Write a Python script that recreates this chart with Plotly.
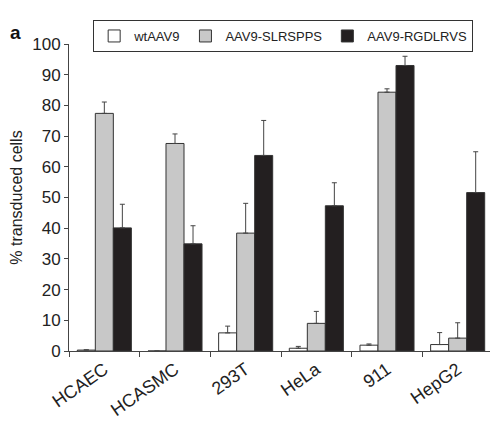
import plotly.graph_objects as go

cells = ["HCAEC", "HCASMC", "293T", "HeLa", "911", "HepG2"]

wt_vals = [0.3, 0, 5.9, 0.9, 1.9, 2.1]
wt_err = [0.1, 0, 2.2, 0.6, 0.4, 3.9]

slr_vals = [77.4, 67.6, 38.4, 9.0, 84.3, 4.2]
slr_err = [3.7, 3.1, 9.7, 3.9, 1.1, 5.0]

rgd_vals = [40.1, 34.9, 63.7, 47.3, 93.0, 51.6]
rgd_err = [7.7, 5.9, 11.4, 7.5, 3.0, 13.3]

series = [
    ("wtAAV9", wt_vals, wt_err, "white"),
    ("AAV9-SLRSPPS", slr_vals, slr_err, "#c8c8c8"),
    ("AAV9-RGDLRVS", rgd_vals, rgd_err, "#231f20"),
]

fig = go.Figure()
for name, vals, err, color in series:
    fig.add_trace(go.Bar(
        x=cells,
        y=vals,
        name=name,
        marker=dict(color=color, line=dict(color="#333333", width=1)),
        error_y=dict(type="data", array=err, arrayminus=[0] * len(err),
                     symmetric=False, color="#444444", thickness=1, width=2.5),
    ))

font_family = "Arial, Liberation Sans, sans-serif"

# page body adds an 8px offset, so the figure is drawn a little smaller
fig.update_layout(
    width=490,
    height=430,
    margin=dict(l=61, r=5, t=36, b=87, autoexpand=False),
    plot_bgcolor="white",
    paper_bgcolor="white",
    barmode="group",
    bargap=0.235,
    bargroupgap=0,
    font=dict(family=font_family, color="#222222"),
    showlegend=True,
    legend=dict(
        orientation="h",
        x=0.057, y=1.026, xanchor="left", yanchor="middle",
        bordercolor="#333333", borderwidth=1,
        font=dict(size=13),
        itemclick=False,
        tracegroupgap=0,
        traceorder="normal",
    ),
    xaxis=dict(
        showline=True, linecolor="#444444", linewidth=1,
        ticks="outside", tickson="boundaries", ticklen=5, tickcolor="#444444",
        tickangle=-35, tickfont=dict(size=18),
        showgrid=False, automargin=False,
    ),
    yaxis=dict(
        range=[0, 100], dtick=10,
        showline=True, linecolor="#444444", linewidth=1,
        ticks="outside", ticklen=4, tickcolor="#444444",
        tickfont=dict(size=17),
        showgrid=False, zeroline=False, automargin=False,
        title=dict(text="% transduced cells", font=dict(size=16), standoff=10),
    ),
    annotations=[
        dict(text="<b>a</b>", x=-0.1439, y=1.036, xref="paper", yref="paper",
             xanchor="left", yanchor="middle", showarrow=False,
             font=dict(size=19, color="#111111")),
    ],
)

fig.write_html("out.html")
